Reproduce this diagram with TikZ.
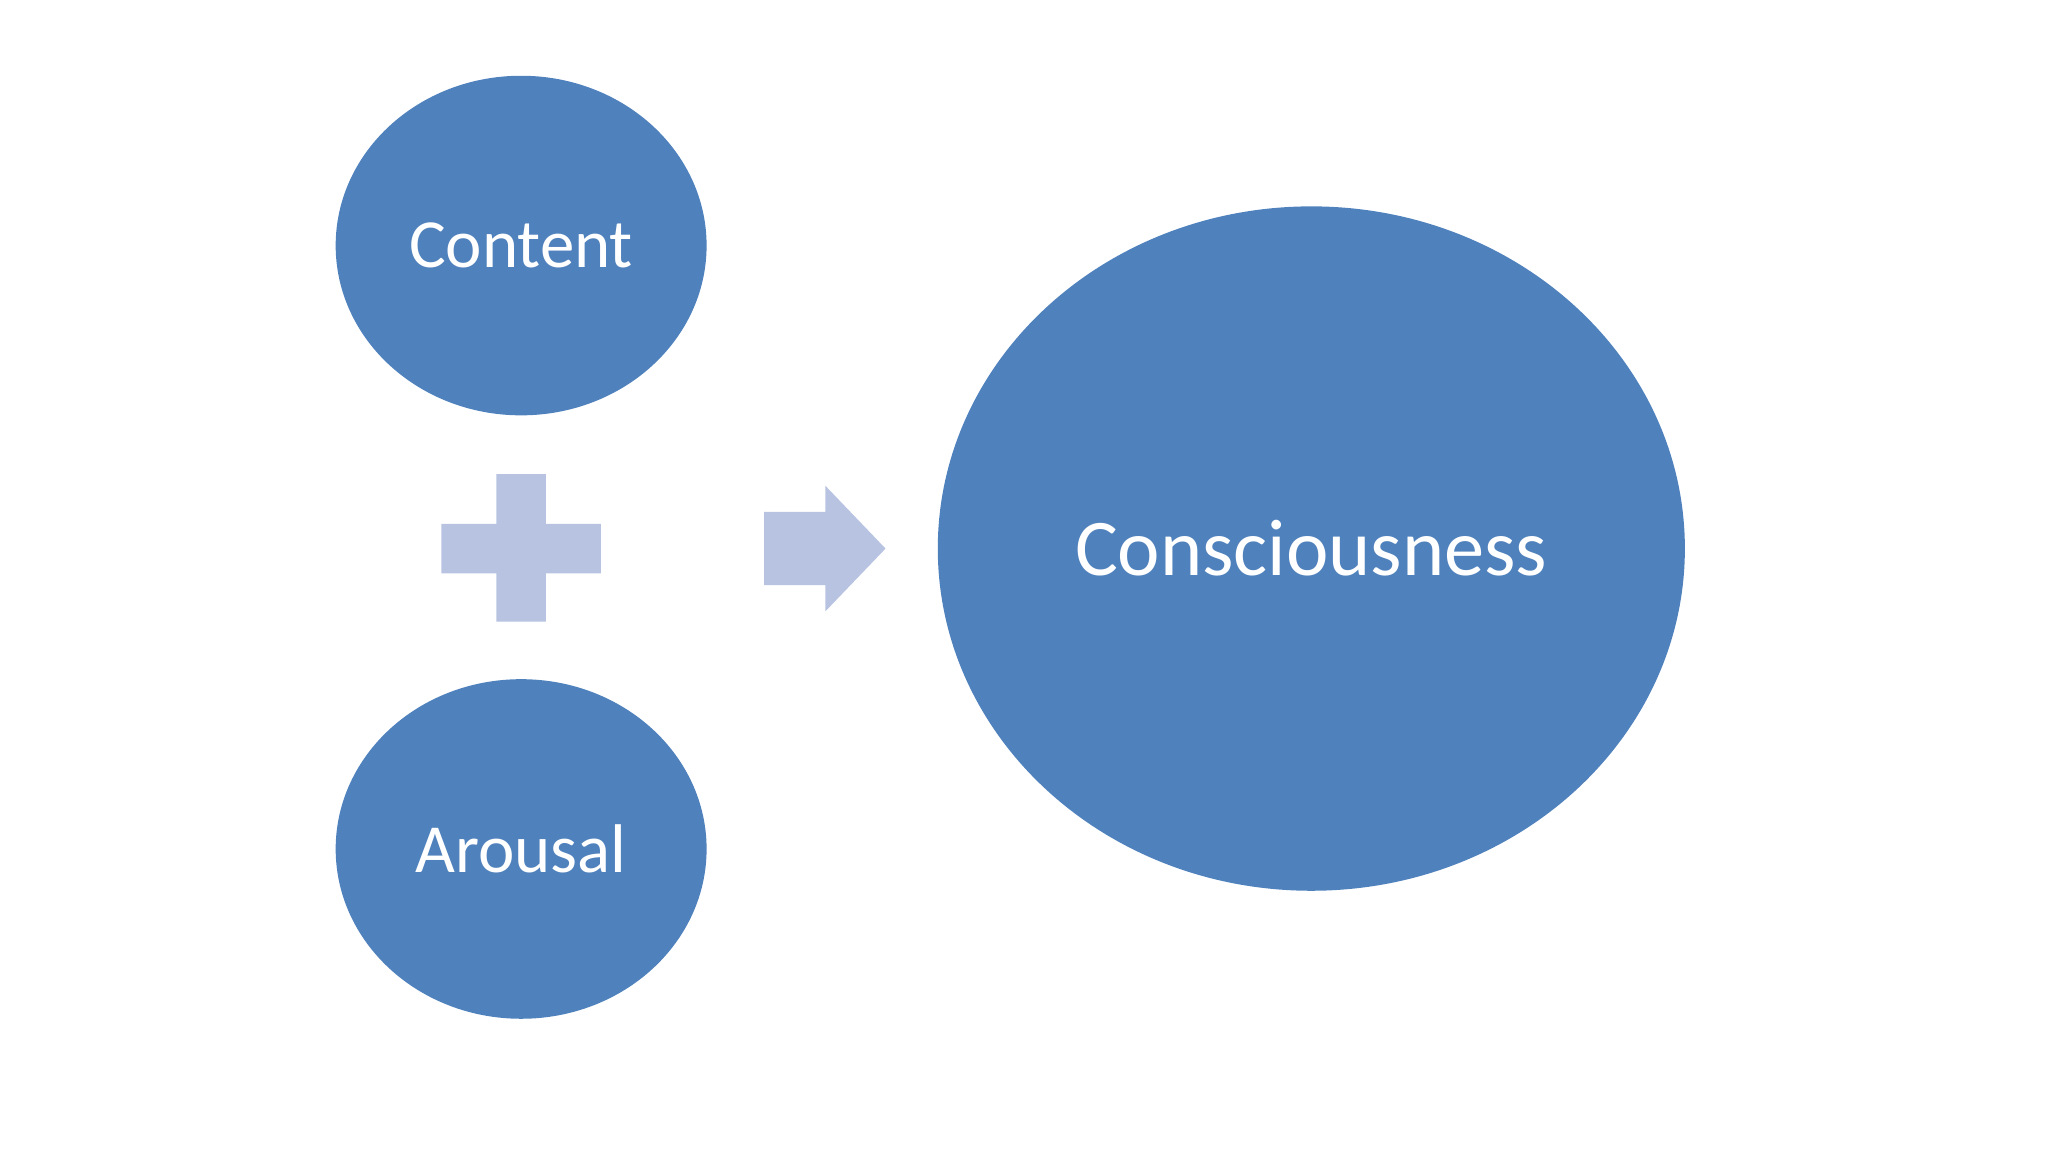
\documentclass[tikz,border=0pt]{standalone}
\usepackage{fontspec}
\setmainfont{Carlito}
\definecolor{cblue}{HTML}{4F81BD}
\definecolor{clight}{HTML}{B7C3E1}
\begin{document}
\begin{tikzpicture}[x=0.01cm,y=-0.01cm]
\tikzset{bubble/.style={fill=cblue,draw=none,text=white}}
\useasboundingbox (0,0) rectangle (1568,882);
\fill[bubble] (399,188) ellipse [x radius=142, y radius=130];
\node[text=white,font=\fontsize{15}{18}\selectfont] (content) at (399,188) {Content};
\fill[bubble] (399,650) ellipse [x radius=142, y radius=130];
\node[text=white,font=\fontsize{15}{18}\selectfont] (arousal) at (399,650) {Arousal};
\fill[bubble] (1004,420) ellipse [x radius=286, y radius=262];
\node[text=white,font=\fontsize{17.5}{20}\selectfont] (cons) at (1004,420) {Consciousness};
\fill[clight] (380,363) -- (418,363) -- (418,401) -- (460,401) -- (460,439) -- (418,439) -- (418,476) -- (380,476) -- (380,439) -- (338,439) -- (338,401) -- (380,401) -- cycle;
\fill[clight] (585,392) -- (632,392) -- (632,372) -- (678,420) -- (632,468) -- (632,448) -- (585,448) -- cycle;
\end{tikzpicture}
\end{document}
